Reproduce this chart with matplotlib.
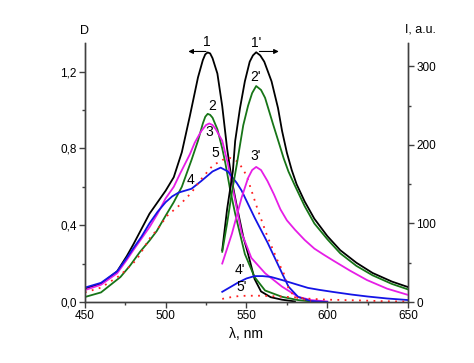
import matplotlib
matplotlib.use("Agg")
import matplotlib.pyplot as plt
from matplotlib.ticker import FixedLocator, FuncFormatter

plt.rcParams.update({
    "font.family": ["Liberation Sans", "DejaVu Sans"],
    "font.size": 8.5,
    "lines.solid_joinstyle": "round",
})

# ---- absorption (left axis, D) ----
abs1_x = [450, 460, 470, 476, 480, 485, 490, 495, 500, 505, 510, 515, 520, 523, 524.5,
          526, 527.5, 529, 532, 535, 538, 541, 544, 548, 551, 555, 559, 565, 572, 580]
abs1_y = [0.07, 0.095, 0.16, 0.24, 0.30, 0.38, 0.46, 0.52, 0.58, 0.65, 0.78, 0.97, 1.17,
          1.26, 1.29, 1.30, 1.295, 1.27, 1.19, 1.02, 0.80, 0.63, 0.50, 0.34, 0.25, 0.12,
          0.055, 0.025, 0.012, 0.003]

abs2_x = [450, 460, 472, 478, 484, 490, 494.5, 500, 505, 510, 516, 520, 523, 524.5, 526,
          527.5, 529, 532, 535, 537, 540, 543, 549, 555, 561.5, 572, 582, 590]
abs2_y = [0.026, 0.05, 0.13, 0.19, 0.26, 0.32, 0.37, 0.45, 0.52, 0.60, 0.74, 0.84, 0.93,
          0.965, 0.98, 0.975, 0.96, 0.90, 0.80, 0.72, 0.58, 0.46, 0.25, 0.13, 0.06, 0.027,
          0.01, 0.003]

abs3_x = [450, 460, 470, 476, 480, 485, 490, 495, 500, 505, 509, 515, 518, 522, 525, 527,
          529, 531, 535, 538.5, 543, 547, 553, 561.5, 572, 582, 590, 600]
abs3_y = [0.062, 0.09, 0.15, 0.22, 0.27, 0.33, 0.39, 0.46, 0.54, 0.60, 0.67, 0.77, 0.83,
          0.89, 0.922, 0.93, 0.922, 0.90, 0.84, 0.72, 0.53, 0.36, 0.23, 0.15, 0.08, 0.027,
          0.01, 0.003]

abs4_x = [450, 460, 470, 476, 480, 485, 490, 495, 500, 504, 508, 516, 522, 529, 534,
          538.5, 544, 547, 555, 563, 572, 576, 582, 590, 600]
abs4_y = [0.075, 0.10, 0.16, 0.23, 0.28, 0.34, 0.41, 0.47, 0.52, 0.55, 0.57, 0.59, 0.63,
          0.68, 0.70, 0.68, 0.62, 0.58, 0.44, 0.31, 0.15, 0.08, 0.026, 0.005, 0.0]

abs5_x = [450, 460, 472, 482, 490, 495, 501, 508, 516, 521, 529, 535, 540, 545, 550,
          557, 563, 569, 573, 576, 580, 590]
abs5_y = [0.05, 0.075, 0.14, 0.22, 0.33, 0.38, 0.45, 0.50, 0.57, 0.63, 0.71, 0.74, 0.75,
          0.73, 0.66, 0.48, 0.34, 0.22, 0.15, 0.07, 0.025, 0.005]

# ---- emission (right axis, I) ----
em1_x = [535, 538, 541.6, 543, 546, 549, 552, 554, 556, 558.5, 561, 565.5, 569.5, 572,
         575, 578, 581, 586, 592, 600, 608, 618, 628, 640, 650]
em1_y = [66, 118, 167, 205, 247, 281, 306, 314, 318, 314, 306, 281, 247, 218, 190, 168,
         150, 128, 106, 84, 66, 50, 37, 26, 19]

em2_x = [535, 538, 541, 544, 548, 551, 553.5, 556, 559, 561.5, 566.5, 570, 573, 576, 580,
         586, 592, 600, 608, 618, 628, 640, 650]
em2_y = [64, 100, 140, 175, 225, 250, 266, 275, 270, 260, 226, 203, 183, 166, 148, 122,
         100, 80, 62, 46, 34, 23, 16]

em3_x = [535, 541, 547, 551, 553.5, 556, 559, 563, 567, 571, 575, 580, 586, 592, 598,
         603.5, 614, 624.5, 637, 650]
em3_y = [49, 87, 133, 158, 168, 172, 168, 154, 137, 118, 104, 92, 79, 68, 60, 53, 40, 28,
         17, 9]

em4_x = [535, 540, 545, 550, 555, 560, 565, 572, 580, 588, 595, 603, 615, 625, 637, 650]
em4_y = [13, 19, 25, 30, 33, 33, 32, 28, 23, 18, 15.5, 13, 9.5, 7, 4.5, 2.5]

em5_x = [535, 540, 545, 550, 560, 570, 580, 590, 600, 610, 620, 635, 650]
em5_y = [4, 6, 7.5, 8, 8, 7, 6, 4, 3, 2.5, 2, 1, 0.5]

black = "#000000"
green = "#177517"
magenta = "#e61ee6"
blue = "#1414e6"
red = "#ff2020"
dots = (0, (1, 3))

fig = plt.figure(figsize=(4.74, 3.63), dpi=100)
ax = fig.add_axes([0.179, 0.168, 0.682, 0.714])
ax2 = ax.twinx()

lw = 1.3
ax.plot(abs1_x, abs1_y, color=black, lw=lw)
ax.plot(abs2_x, abs2_y, color=green, lw=lw)
ax.plot(abs3_x, abs3_y, color=magenta, lw=lw)
ax.plot(abs4_x, abs4_y, color=blue, lw=lw)
ax.plot(abs5_x, abs5_y, color=red, lw=1.3, linestyle=dots)

ax2.plot(em1_x, em1_y, color=black, lw=lw)
ax2.plot(em2_x, em2_y, color=green, lw=lw)
ax2.plot(em3_x, em3_y, color=magenta, lw=lw)
ax2.plot(em4_x, em4_y, color=blue, lw=lw)
ax2.plot(em5_x, em5_y, color=red, lw=1.3, linestyle=dots)

ax.set_xlim(450, 650)
ax.set_ylim(0, 1.35)
ax2.set_ylim(0, 330)

comma = FuncFormatter(lambda v, p: f"{v:.1f}".replace(".", ","))
ax.yaxis.set_major_locator(FixedLocator([0, 0.4, 0.8, 1.2]))
ax.yaxis.set_minor_locator(FixedLocator([0.2, 0.6, 1.0]))
ax.yaxis.set_major_formatter(comma)
ax.xaxis.set_major_locator(FixedLocator([450, 500, 550, 600, 650]))
ax.xaxis.set_minor_locator(FixedLocator([475, 525, 575, 625]))
ax2.yaxis.set_major_locator(FixedLocator([0, 100, 200, 300]))
ax2.yaxis.set_minor_locator(FixedLocator([50, 150, 250]))

spine_c = "#404040"
for a in (ax, ax2):
    a.spines["top"].set_visible(False)
    for s in ("left", "right", "bottom"):
        a.spines[s].set_color(spine_c)
        a.spines[s].set_linewidth(1.0)
    a.tick_params(which="major", direction="out", length=4, width=1.0,
                  color=spine_c, labelsize=8.5, pad=2)
    a.tick_params(which="minor", direction="out", length=2.5, width=1.0,
                  color=spine_c)

ax.set_xlabel("λ, nm", fontsize=10, labelpad=3)
ax.text(450, 1.41, "D", ha="center", va="center", fontsize=9, clip_on=False)
ax2.text(648, 347, "I, a.u.", ha="left", va="center", fontsize=9, clip_on=False)

# curve labels
fs = 10
ax.text(525.5, 1.356, "1", ha="center", va="center", fontsize=fs)
ax.text(528.6, 1.023, "2", ha="center", va="center", fontsize=fs)
ax.text(526.8, 0.883, "3", ha="center", va="center", fontsize=fs)
ax.text(515.6, 0.634, "4", ha="center", va="center", fontsize=fs)
ax.text(530.9, 0.774, "5", ha="center", va="center", fontsize=fs)
ax2.text(555.9, 330, "1'", ha="center", va="center", fontsize=fs)
ax2.text(555.7, 287, "2'", ha="center", va="center", fontsize=fs)
ax2.text(555.7, 186, "3'", ha="center", va="center", fontsize=fs)
ax2.text(546, 40.5, "4'", ha="center", va="center", fontsize=fs)
ax2.text(547, 19, "5'", ha="center", va="center", fontsize=fs)

# arrows showing axis assignment
ax.annotate("", xy=(514, 1.305), xytext=(525, 1.305),
            arrowprops=dict(arrowstyle="-|>", color="k", lw=0.8, mutation_scale=7,
                            shrinkA=0, shrinkB=0))
ax2.annotate("", xy=(570, 319), xytext=(558, 319),
             arrowprops=dict(arrowstyle="-|>", color="k", lw=0.8, mutation_scale=7,
                             shrinkA=0, shrinkB=0))

fig.savefig("out.png", dpi=100)
